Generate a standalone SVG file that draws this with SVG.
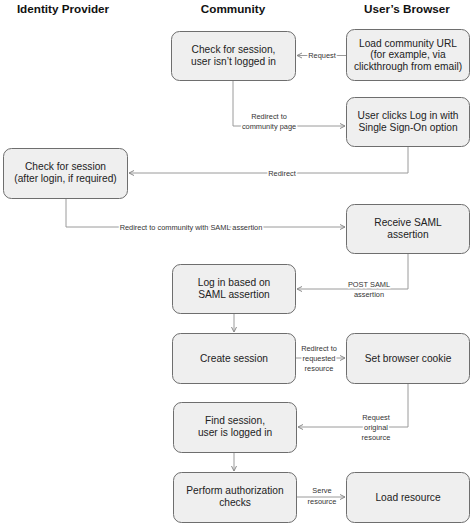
<svg xmlns="http://www.w3.org/2000/svg" width="474" height="526" viewBox="0 0 474 526">
<defs>
<style>
.box{fill:#efefef;stroke:#6e6e6e;stroke-width:1}
.t{font-family:"Liberation Sans",Arial,sans-serif;font-size:10.2px;fill:#222;text-anchor:middle}
.h{font-family:"Liberation Sans",Arial,sans-serif;font-size:11.7px;font-weight:bold;fill:#111;text-anchor:middle}
.c{fill:none;stroke:#9a9a9a;stroke-width:1}
.l{font-family:"Liberation Sans",Arial,sans-serif;font-size:7.4px;fill:#333;text-anchor:middle;stroke:#fff;stroke-width:3;paint-order:stroke;stroke-linejoin:round}
</style>
<marker id="a" viewBox="0 0 8 8" refX="7" refY="4" markerWidth="8" markerHeight="8" markerUnits="userSpaceOnUse" orient="auto">
<path d="M2,1.5 L7,4 L2,6.5" fill="none" stroke="#8a8a8a" stroke-width="1"/>
</marker>
</defs>
<rect width="474" height="526" fill="#fff"/>
<g id="headers">
<text class="h" x="63" y="13">Identity Provider</text>
<text class="h" x="233" y="13">Community</text>
<text class="h" x="407" y="13">User’s Browser</text>
</g>
<g id="connectors">
<path class="c" d="M346,55.5 H297" marker-end="url(#a)"/>
<path class="c" d="M233,80 V126 H345" marker-end="url(#a)"/>
<path class="c" d="M408,146 V173 H129" marker-end="url(#a)"/>
<path class="c" d="M66,198 V227 H345" marker-end="url(#a)"/>
<path class="c" d="M408,253 V289 H297" marker-end="url(#a)"/>
<path class="c" d="M234,313 V332" marker-end="url(#a)"/>
<path class="c" d="M296,358 H345" marker-end="url(#a)"/>
<path class="c" d="M408,383 V427 H298" marker-end="url(#a)"/>
<path class="c" d="M234,452 V471" marker-end="url(#a)"/>
<path class="c" d="M297,497 H345" marker-end="url(#a)"/>
<text class="l" x="322" y="58">Request</text>
<text class="l" x="269" y="119">Redirect to</text>
<text class="l" x="269" y="129">community page</text>
<text class="l" x="282" y="176">Redirect</text>
<text class="l" x="191" y="230">Redirect to community with SAML assertion</text>
<text class="l" x="369" y="287">POST SAML</text>
<text class="l" x="369" y="297">assertion</text>
<text class="l" x="319" y="351">Redirect to</text>
<text class="l" x="319" y="361">requested</text>
<text class="l" x="319" y="371">resource</text>
<text class="l" x="376" y="420">Request</text>
<text class="l" x="376" y="430">original</text>
<text class="l" x="376" y="440">resource</text>
<text class="l" x="322" y="493">Serve</text>
<text class="l" x="322" y="504">resource</text>
</g>
<g id="n1"><rect class="box" x="171.5" y="31.5" width="124" height="49" rx="8"/>
<text class="t" x="233.5" y="53">Check for session,</text><text class="t" x="233.5" y="65">user isn’t logged in</text></g>
<g id="n2"><rect class="box" x="346.5" y="29.5" width="123" height="51" rx="8"/>
<text class="t" x="408" y="46.5">Load community URL</text><text class="t" x="408" y="58">(for example, via</text><text class="t" x="408" y="69.5">clickthrough from email)</text></g>
<g id="n3"><rect class="box" x="346.5" y="97.5" width="123" height="49" rx="8"/>
<text class="t" x="408" y="119">User clicks Log in with</text><text class="t" x="408" y="131">Single Sign-On option</text></g>
<g id="n4"><rect class="box" x="3.5" y="148.5" width="124" height="50" rx="8"/>
<text class="t" x="65.5" y="170">Check for session</text><text class="t" x="65.5" y="182">(after login, if required)</text></g>
<g id="n5"><rect class="box" x="346.5" y="204.5" width="123" height="49" rx="8"/>
<text class="t" x="408" y="226">Receive SAML</text><text class="t" x="408" y="238">assertion</text></g>
<g id="n6"><rect class="box" x="172.5" y="264.5" width="123" height="49" rx="8"/>
<text class="t" x="234" y="286">Log in based on</text><text class="t" x="234" y="298">SAML assertion</text></g>
<g id="n7"><rect class="box" x="172.5" y="333.5" width="123" height="50" rx="8"/>
<text class="t" x="234" y="362">Create session</text></g>
<g id="n8"><rect class="box" x="346.5" y="333.5" width="123" height="50" rx="8"/>
<text class="t" x="408" y="362">Set browser cookie</text></g>
<g id="n9"><rect class="box" x="173.5" y="402.5" width="123" height="50" rx="8"/>
<text class="t" x="235" y="424">Find session,</text><text class="t" x="235" y="436">user is logged in</text></g>
<g id="n10"><rect class="box" x="173.5" y="472.5" width="123" height="50" rx="8"/>
<text class="t" x="235" y="494">Perform authorization</text><text class="t" x="235" y="506">checks</text></g>
<g id="n11"><rect class="box" x="346.5" y="472.5" width="123" height="50" rx="8"/>
<text class="t" x="408" y="501">Load resource</text></g>
</svg>
